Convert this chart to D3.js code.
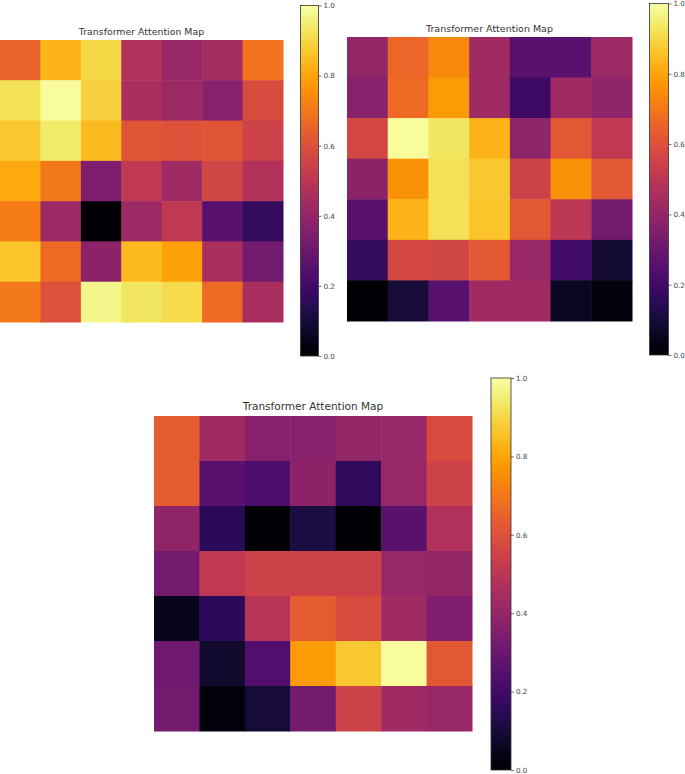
<!DOCTYPE html>
<html>
<head>
<meta charset="utf-8">
<script src="https://cdn.jsdelivr.net/npm/d3@7"></script>
<style>
  body { margin: 0; background: #fff; }
  svg { display: block; font-family: "DejaVu Sans", sans-serif; }
</style>
</head>
<body>
<svg id="chart" width="685" height="774"></svg>
<script>
// attention weights, rows top -> bottom
const mapA = [
    [0.65, 0.83, 0.90, 0.47, 0.41, 0.44, 0.69],
    [0.92, 0.99, 0.89, 0.46, 0.42, 0.37, 0.58],
    [0.87, 0.94, 0.84, 0.61, 0.60, 0.61, 0.55],
    [0.81, 0.70, 0.34, 0.51, 0.43, 0.56, 0.48],
    [0.71, 0.42, 0.00, 0.42, 0.51, 0.25, 0.17],
    [0.86, 0.67, 0.38, 0.84, 0.79, 0.46, 0.32],
    [0.70, 0.60, 0.97, 0.93, 0.91, 0.67, 0.45]
];
const mapB = [
    [0.40, 0.66, 0.74, 0.43, 0.26, 0.26, 0.42],
    [0.37, 0.67, 0.78, 0.43, 0.19, 0.43, 0.39],
    [0.57, 0.99, 0.93, 0.83, 0.39, 0.62, 0.51],
    [0.38, 0.76, 0.92, 0.87, 0.55, 0.76, 0.62],
    [0.26, 0.83, 0.92, 0.86, 0.62, 0.50, 0.32],
    [0.17, 0.57, 0.56, 0.62, 0.41, 0.20, 0.09],
    [0.00, 0.10, 0.25, 0.43, 0.43, 0.06, 0.02]
];
const mapC = [
    [0.63, 0.43, 0.37, 0.37, 0.40, 0.41, 0.58],
    [0.63, 0.26, 0.23, 0.38, 0.16, 0.41, 0.55],
    [0.39, 0.15, 0.00, 0.11, 0.00, 0.26, 0.47],
    [0.32, 0.51, 0.55, 0.55, 0.55, 0.41, 0.40],
    [0.05, 0.15, 0.49, 0.63, 0.58, 0.43, 0.35],
    [0.31, 0.08, 0.24, 0.78, 0.87, 0.99, 0.62],
    [0.32, 0.02, 0.10, 0.32, 0.55, 0.43, 0.41]
];
const colorTicks = [0, 0.2, 0.4, 0.6, 0.8, 1.0];
const chartTitle = "Transformer Attention Map";

// where each panel sits on the page
const panels = [
    { data: mapA, hm: { x: 0, y: 40, w: 283, h: 282 }, cb: { x: 300.5, y: 5.5, w: 18, h: 350.5 }, titleY: 35, titleSize: 9.4 },
    { data: mapB, hm: { x: 347, y: 37, w: 285, h: 284 }, cb: { x: 649.5, y: 3.5, w: 19, h: 351.5 }, titleY: 32, titleSize: 9.5 },
    { data: mapC, hm: { x: 154, y: 416, w: 318, h: 315 }, cb: { x: 491, y: 378, w: 20, h: 392 }, titleY: 410, titleSize: 10.5 }
];

const svg = d3.select("#chart");
const color = d3.scaleSequential(d3.interpolateInferno).domain([0, 1]);

// shared gradient for the colorbars
const grad = svg.append("defs").append("linearGradient")
    .attr("id", "inferno")
    .attr("x1", 0).attr("y1", 1).attr("x2", 0).attr("y2", 0);
grad.selectAll("stop")
    .data(d3.range(0, 1.0001, 0.02))
    .join("stop")
    .attr("offset", d => d)
    .attr("stop-color", d => color(d));

panels.forEach(p => {
    const n = p.data.length;
    const x = d3.scaleBand().domain(d3.range(n)).range([p.hm.x, p.hm.x + p.hm.w]);
    const y = d3.scaleBand().domain(d3.range(n)).range([p.hm.y, p.hm.y + p.hm.h]);

    const cells = p.data.flatMap((row, r) => row.map((v, c) => ({ r, c, v })));

    svg.append("g").selectAll("rect")
        .data(cells)
        .join("rect")
        .attr("x", d => x(d.c))
        .attr("y", d => y(d.r))
        .attr("width", x.bandwidth() + 0.5)
        .attr("height", y.bandwidth() + 0.5)
        .attr("fill", d => color(d.v));

    svg.append("text")
        .attr("x", p.hm.x + p.hm.w / 2)
        .attr("y", p.titleY)
        .attr("text-anchor", "middle")
        .attr("font-size", p.titleSize)
        .attr("fill", "#333")
        .text(chartTitle);

    // colorbar
    const cb = svg.append("g").attr("transform", `translate(${p.cb.x},${p.cb.y})`);
    cb.append("rect")
        .attr("width", p.cb.w)
        .attr("height", p.cb.h)
        .attr("fill", "url(#inferno)")
        .attr("stroke", "#333")
        .attr("stroke-width", 0.8);

    const cbScale = d3.scaleLinear().domain([0, 1]).range([p.cb.h, 0]);
    const axis = cb.append("g")
        .attr("transform", `translate(${p.cb.w},0)`)
        .call(d3.axisRight(cbScale).tickValues(colorTicks).tickFormat(d3.format(".1f")).tickSize(3).tickPadding(2));
    axis.select(".domain").remove();
    axis.selectAll("line").attr("stroke", "#333").attr("stroke-width", 0.7);
    axis.selectAll("text")
        .attr("font-size", 7.2)
        .attr("font-family", "DejaVu Sans, sans-serif")
        .attr("fill", "#444");
});
</script>
</body>
</html>
